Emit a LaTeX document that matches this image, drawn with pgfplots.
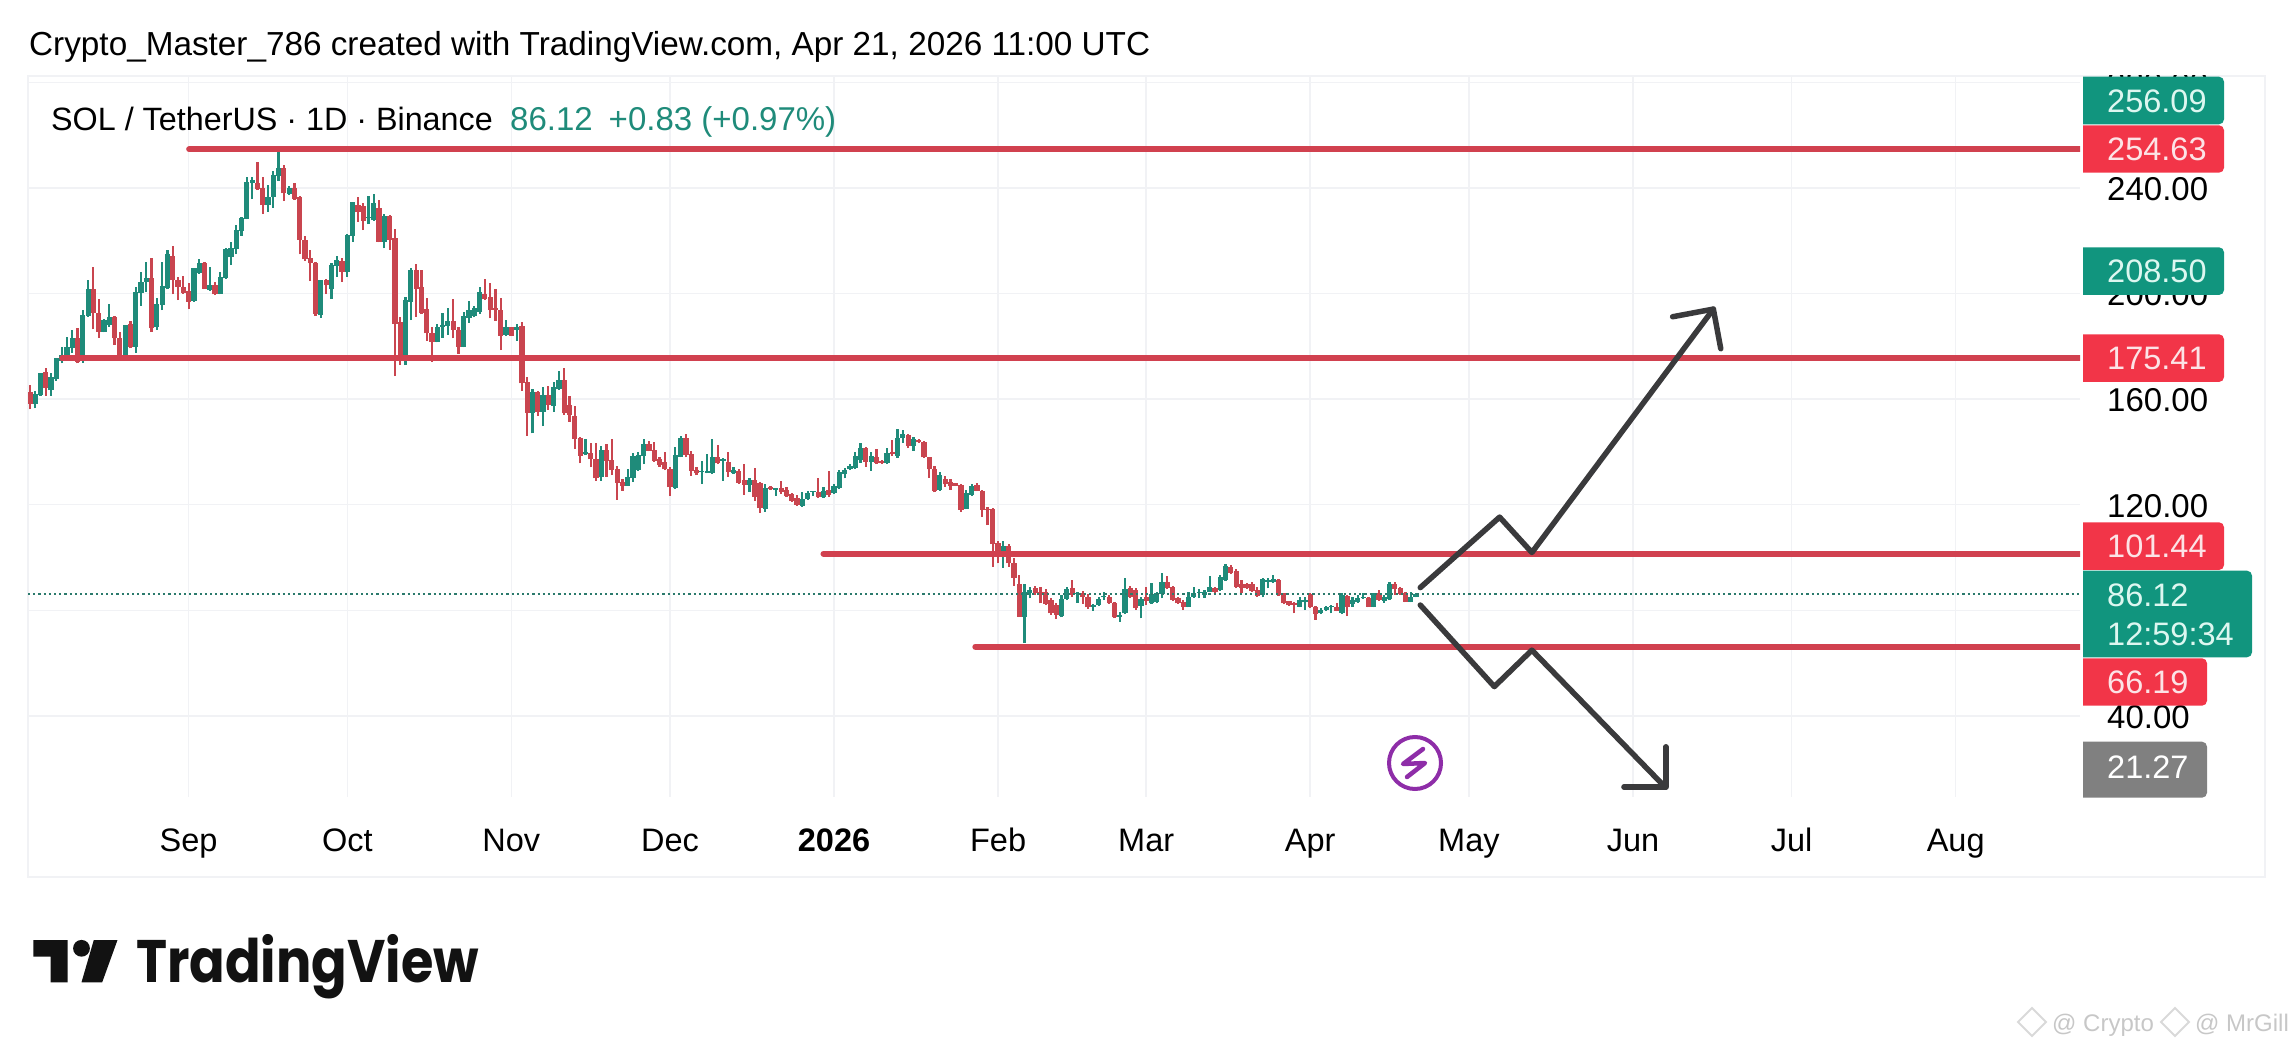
\documentclass[border=0pt]{standalone}
\usepackage{pgfplots}
\usepackage{pgfplotstable}
\usepackage{fontspec}
\pgfplotsset{compat=1.18}
\setmainfont{Liberation Sans}
\newfontfamily\pop{Poppins}
\definecolor{cg}{HTML}{1F8B7A}
\definecolor{cr}{HTML}{C9454F}
\definecolor{lr}{HTML}{D1414F}
\definecolor{tg}{HTML}{11957E}
\definecolor{tr}{HTML}{F23548}
\definecolor{gridc}{HTML}{F1F2F5}
\definecolor{ar}{HTML}{3A3A3C}
\definecolor{pu}{HTML}{8E2DA8}
\definecolor{dotc}{HTML}{2B7A6C}
\definecolor{tgt}{HTML}{DDF7F0}
\definecolor{trt}{HTML}{FCE3E6}
\pgfplotstableread{
d h t b l
-30 165.3 162.8 158.1 156.1
-27 171.6 170.4 164.1 161.2
-21 186.8 183 174.2 173.5
-18 210.2 201.7 192.5 186.4
-17 197.8 192.8 185.5 183.2
-14 191.4 191.2 183 180.5
-13 185.5 183 175.4 174.8
-11 189.7 188.4 179.8 179.2
-7 213.3 206 186.8 185.5
-3 218 214.3 205.1 199.7
-2 206.4 205.1 202.6 197.5
-1 206.6 202.6 200.3 200
0 204.1 201.1 196.9 194
3 211.8 211.4 201.9 201.6
5 204.5 203.2 199.7 199.4
13 249.7 242 239.5 239.2
14 244 240.1 233.5 230.1
18 248.7 247.4 237.9 235
20 241.7 239.8 235.8 235.5
21 236.9 236.4 220.3 214.8
22 221.8 220.3 212.9 212.4
23 216.5 213.3 211.4 204.7
24 212 211.7 192.2 191.4
26 205.5 205.1 203.2 199.8
29 213.3 212.4 208.3 204.5
32 236.7 233.5 230.7 227.2
33 234.1 233.1 227.5 224
36 235.4 232.3 219.6 219.4
38 229.7 229.3 220.3 216.5
39 224.3 220.9 188.4 168.7
40 191.2 189.3 174.8 172.9
43 211 208.9 201.9 191.2
44 208.9 202.3 192.8 192.2
45 198.2 194 184.9 182.1
46 187.4 184.9 181.7 174.2
50 197.9 189.6 186.2 183
51 187.4 186.2 179.8 177.1
56 205.5 200 197.9 197.5
57 204.1 198.5 193.7 190.6
58 201.6 194.7 193.7 189.7
59 198.2 193.7 184 178.6
61 187.4 187.2 184 183.9
63 189.3 187.7 166 163.2
64 168.3 166.6 154.9 146.2
66 163.2 162.8 155.2 153.6
68 165.1 161.6 157.8 155.9
71 171.7 167.2 154.6 154
72 161.2 157.8 154 151.5
73 157.4 153.6 144.8 141.1
74 145.5 145.3 138.6 135.7
76 143.5 139.5 137.2 134.2
77 143.2 137.2 130 129.1
79 143 140.7 136.7 130.6
80 144.8 136.9 133.1 131.2
81 134.7 133.4 128.3 121.8
82 129.6 128.7 127.2 125.3
87 144.3 143 140.5 140.2
88 143.6 140.7 136.7 136.3
89 138.2 137.2 135 134.4
90 140.1 136 133.4 133.1
91 134.2 133.5 126.6 123.4
94 146.8 145.1 138.8 137.9
95 140.5 139.2 132.9 131
96 134.2 133.1 131.9 131.2
100 142.6 137.9 135.7 135.4
102 139.8 136.3 132.5 130.6
104 133.4 132.9 128.3 127.8
105 135.3 129.4 127.5 123.7
107 133.8 129.4 123 121.5
108 128.7 128.1 118.6 117
110 127.2 126.8 126 125.7
112 129 126.2 124.9 124
113 126.6 125.6 123.3 123
114 124.6 124 121.4 121
115 123.7 122.4 119.9 119.6
119 130.2 124.9 122.8 122.5
121 132.8 125.6 123.7 123
128 141.7 141.4 136.3 134.4
130 141.1 138.2 135.9 135.4
131 136.9 136.6 135.7 135.4
133 144.5 140.1 139.1 138.6
136 146.6 146.4 142.2 141.4
138 144.9 144.5 143.6 143.4
139 144.1 143.9 137.9 137.7
140 138.2 137.9 133.4 130.2
141 134.7 133.4 125.3 124.7
143 130.9 129.7 127.7 126.8
144 129.7 128.5 127.2 125.6
145 128.3 128.1 127.2 127
146 127.7 127.3 118 117.2
149 128.1 127.5 125.3 125.1
150 125.6 125.3 118 115.5
151 119.2 118.4 118 112.3
152 118.6 118.4 105.1 96.5
153 106.4 105.4 100.9 97.8
155 105.1 104.5 97.8 96.5
156 99.7 97.8 92.4 89.3
157 93.3 90 77.6 77.4
160 89.2 88.3 86.4 85.8
161 88.7 87 85.8 82.6
162 87.9 87 82.4 82
163 84.5 83.9 78.8 78.4
164 82.6 82 78.4 76.7
167 91.5 88.3 85.8 85.2
169 87.4 86.4 85.2 82.4
170 86 85.2 81.1 80.5
174 85.8 84.9 82.6 82.4
175 83 82.6 77.3 77
178 89.2 88.5 85.2 84.8
179 88.5 87.7 80.7 80.3
181 88.9 85.2 83.5 82
185 93 90.8 88.3 87.9
186 89.2 88.7 83.9 83.5
187 85.2 84.5 82.6 82.4
188 83.9 83.3 81.4 80.1
194 88.9 88.5 87 86.7
197 97.2 96.5 94.2 93.7
198 95.5 95 88.9 88.3
199 91.5 89.9 88.3 86.7
200 90.2 89.8 88.3 88.1
201 90.8 89.9 87.4 87
202 88.9 87.7 85.4 85.2
206 91.8 91.6 85.8 85.5
207 86.7 86.4 82.6 82.2
208 83.6 83.4 82 81.7
209 83.3 82.6 82 78.8
212 86.4 86.2 81.1 80.7
213 81.6 81.4 78.6 76.5
217 82.6 81.4 79.8 79.6
219 85.8 85.4 81.4 77.8
223 84.9 84.5 81.4 81.1
225 87.7 86.7 83.9 83.6
228 90.8 89.8 87.9 85.8
229 88.9 88.5 86 85.8
230 87 86.7 83.3 83
}\downtable
\pgfplotstableread{
d h t b l
-29 163.2 162 158.1 156.5
-28 169.8 169.8 161.5 161.2
-26 170 168.5 163.4 161.2
-25 175.4 175.4 167.5 167
-24 179.6 176.7 174.5 173.5
-23 183.6 179.9 176.3 175.8
-22 186.2 183 179.2 177.6
-20 193.7 191.8 174.8 173.8
-19 205.1 201.7 191.5 191.2
-16 190.2 189.9 185.5 185.3
-15 195.9 191.2 188 187.4
-12 188 188 176 175.4
-10 202.3 200.7 179.8 177.6
-9 208.3 204.2 200.3 195.4
-8 211.8 205.7 204.2 200.7
-6 198.2 196 187.2 186.2
-5 211.8 202.8 195.6 193.7
-4 216.5 214.8 202.2 201.6
1 209.8 209.5 197.1 196.8
2 213 211.4 207.6 207.4
4 210.2 203.2 201.3 201.1
6 208 206.4 200 199.7
7 217.1 216.8 205.7 205.5
8 219.6 217.1 213.7 210.8
9 225.9 224 216.8 214.9
10 229.1 228.7 223.8 221.8
11 244 242.4 228.2 228.1
12 244 243 241.7 235.8
15 241.1 236.7 233.5 231
16 246.5 244.9 236.7 232.5
17 253.7 247.4 244.5 242.7
19 240.7 239.8 237.7 237.3
25 205.3 205.1 191.8 190.8
27 211.4 210.8 201.9 197.9
28 214.2 212.7 210.5 206.4
30 222.4 222.1 208.3 206.4
31 234.8 234.5 221.8 219.6
34 237 229.1 228.5 226.3
35 237.6 234.1 227.8 227.6
37 230 229.3 219.6 217.1
41 198.8 197.5 176.7 172.9
42 209.5 208.9 196.9 189.9
47 188.4 187.4 181.7 181.5
48 192.5 188 187.4 183.2
49 194.4 189.7 187.7 184.3
52 193.1 191.5 179.8 179.6
53 197.1 193.7 190.6 188.9
54 195.2 194.4 191.5 191
55 202.3 200.7 193.1 192.2
60 190 187.2 184.3 184
62 188.4 187.4 186.2 182.1
65 163.8 162.8 154.9 147
67 164.7 161.6 155.2 149.8
69 166.6 164.7 157.5 155.2
70 170.8 167.2 163.7 163.5
75 144.9 140.1 139.2 138.8
78 142.2 140.7 130.4 129.1
83 133.4 130.4 127.2 127.1
84 139.7 138.4 130 128.7
85 140.1 138.8 133.1 132.9
86 144.8 143 138.4 135.4
92 141.7 138.8 126.2 125.9
93 146.2 145.4 138.2 137.9
97 136.6 132.8 132.3 127.8
98 139.1 132.9 132.1 131.9
99 144.9 138.2 132.1 131.6
101 137.8 137.2 136.7 129
103 134.4 133.1 131.9 131.6
106 130 129.4 127.5 125
109 127.7 126.4 118.4 117.4
111 126.4 126.2 125.6 123.3
116 124.9 122 119.6 119.3
117 125.2 124.6 122 121.8
118 125.3 125.2 124.8 123.3
120 126.8 125.2 122.8 122.5
122 127.7 127 124.3 124
123 133.1 132.5 126.2 125.9
124 133.8 133.1 131.6 130
125 135.3 134.7 133.5 133.1
126 140.1 138.4 133.8 133.5
127 143.5 141.4 136.9 135.9
129 140.1 138.4 136 132.9
132 141.4 139.7 135.7 135.4
134 148.7 145.4 138.6 137.8
135 148.3 146.6 145.1 143.5
137 145.8 144.8 142.2 140.5
142 132.3 131.2 125.6 125.2
147 125.6 124.6 118.5 118.2
148 127.7 127.2 123.7 123.4
154 106.2 104.3 100.9 96.1
158 89.8 87 77.6 67.7
159 88.9 87.7 86.4 84.5
165 85.8 84.1 77.8 77.3
166 88.9 88.2 84.1 83.9
168 87 86.7 86.2 82.9
171 82.4 82 81.4 79.8
172 85.2 84.3 82 81.6
173 86.8 85.5 84.9 83.9
176 79.5 78.2 77.6 75.7
177 92.3 87.9 78.8 78.6
180 85.2 84.1 81.6 76.9
182 90.2 86.2 82.6 82.4
183 87 86.7 83.3 82.6
184 94 90.6 86 84.5
189 87 84.9 81.4 81.1
190 88.7 86.4 85.2 84.8
191 88 87 86.7 84.5
192 87.7 87 85.8 84.8
193 93 88.9 87 86.8
195 93.4 92.7 87.7 87.4
196 97.5 96.8 91.5 91.1
203 92.3 91.8 85.8 84.9
204 92.1 91.5 90.8 88.3
205 93.4 91.8 90.6 90.3
210 85.2 83.9 81.4 81.1
211 85.2 83.9 83.3 80.1
214 80.7 80.1 78.8 78.6
215 81.6 81.1 80.1 79.7
216 82 81.7 81.1 78.8
218 86.7 85.8 79.1 78.6
220 85.2 83.9 82.4 81.4
221 85.8 84.5 83.3 82.9
222 86.7 85.2 84.5 84.3
224 86.7 86.4 81.4 81.1
226 85.8 85.2 83.6 82.9
227 90.8 89.9 84.1 83.9
231 87 85.2 83.3 83
232 86.7 86.2 85.2 84.9
}\uptable
\newcommand\pricetag[4]{%
  \fill[#1] (2083,#2) [rounded corners=5pt] -- (#4,#2) -- (#4,#3) [sharp corners] -- (2083,#3) -- cycle;}
\newcommand\tagtext[3]{\node[anchor=base west,inner sep=0pt,text=#1,font=\fontsize{32.5}{36}\selectfont] at (2107,#2) {#3};}
\begin{document}
\begin{tikzpicture}[x=1pt,y=1pt]
\path[use as bounding box] (0,0) rectangle (2294,1047);
\begin{scope}[yshift=1047pt,y=-1pt]
\draw[gridc,line width=1.5pt] (28,76) rectangle (2265,877);
\end{scope}
\begin{axis}[
  at={(28pt,250pt)},anchor=south west,
  width=2052pt,height=721pt,scale only axis,
  xmin=-30.36,xmax=357.5,ymin=9.28,ymax=282.4,
  axis line style={draw=none},
  tick style={draw=none},
  grid=major,grid style={gridc,line width=1.5pt},
  xtick={0,30,61,91,122,153,181,212,242,273,303,334},
  xticklabels={Sep,Oct,Nov,Dec,\textbf{2026},Feb,Mar,Apr,May,Jun,Jul,Aug},
  xticklabel style={font=\fontsize{32.5}{36}\selectfont,anchor=base,yshift=-54.5pt},
  ytick={40,80,120,160,200,240,280},
  yticklabel pos=right,
  yticklabel style={font=\fontsize{33}{36}\selectfont,anchor=west,xshift=27pt,yshift=-1pt,inner sep=0pt,
    /pgf/number format/.cd,fixed,fixed zerofill,precision=2,assume math mode=true},
]
\addplot[forget plot,draw=none,no marks,error bars/.cd,y dir=plus,y explicit,error mark=none,error bar style={draw=cg,line width=2.2pt}] table[x=d,y=l,y error expr=\thisrow{h}-\thisrow{l}]{\uptable};
\addplot[forget plot,draw=none,no marks,error bars/.cd,y dir=plus,y explicit,error mark=none,error bar style={draw=cg,line width=5.2pt}] table[x=d,y=b,y error expr=\thisrow{t}-\thisrow{b}]{\uptable};
\addplot[forget plot,draw=none,no marks,error bars/.cd,y dir=plus,y explicit,error mark=none,error bar style={draw=cr,line width=2.2pt}] table[x=d,y=l,y error expr=\thisrow{h}-\thisrow{l}]{\downtable};
\addplot[forget plot,draw=none,no marks,error bars/.cd,y dir=plus,y explicit,error mark=none,error bar style={draw=cr,line width=5.2pt}] table[x=d,y=b,y error expr=\thisrow{t}-\thisrow{b}]{\downtable};
% last price
\addplot[dotc,line width=2pt,dash pattern=on 2.2pt off 3pt] coordinates {(-30.36,86.12)(357.5,86.12)};
% levels
\addplot[lr,line width=6pt,line cap=round] coordinates {(0.1,254.63)(358.5,254.63)};
\addplot[lr,line width=6pt,line cap=round] coordinates {(-23.9,175.41)(358.5,175.41)};
\addplot[lr,line width=6pt,line cap=round] coordinates {(120,101.44)(358.5,101.44)};
\addplot[lr,line width=6pt,line cap=round] coordinates {(148.7,66.19)(358.5,66.19)};
% arrows
\addplot[ar,line width=5.5pt,line cap=round,line join=round] coordinates {(232.8,88.6)(247.8,115.3)(253.9,101.9)(288.2,194.1)};
\addplot[ar,line width=5.5pt,line cap=round,line join=round] coordinates {(280.5,191.2)(288.2,194.1)(289.6,179.1)};
\addplot[ar,line width=5.5pt,line cap=round,line join=round] coordinates {(232.8,82.0)(246.8,51.1)(253.9,64.9)(279.1,13.0)};
\addplot[ar,line width=5.5pt,line cap=round,line join=round] coordinates {(279.2,28.3)(279.2,13.0)(271.3,13.0)};
\end{axis}
\begin{scope}[yshift=1047pt,y=-1pt]
% the pane cuts off the topmost scale number
\fill[white] (2090,58) rectangle (2230,74.7);
% header
\node[anchor=base west,inner sep=0pt,font=\fontsize{33.3}{36}\selectfont] at (29,55.5) {Crypto\_Master\_786 created with TradingView.com, Apr 21, 2026 11:00 UTC};
\node[anchor=base west,inner sep=0pt,font=\fontsize{32.3}{36}\selectfont] at (51,131) {SOL / TetherUS · 1D · Binance};
\node[anchor=base west,inner sep=0pt,text=cg,font=\fontsize{33}{36}\selectfont] at (510,131) {86.12\hspace{16pt}+0.83 (+0.97\%)};
% tags
\pricetag{tg}{76.7}{124.3}{2224}
\tagtext{tgt}{113}{256.09}
\pricetag{tr}{125.3}{172.7}{2224}
\tagtext{trt}{161}{254.63}
\pricetag{tg}{247.3}{295}{2224}
\tagtext{tgt}{283}{208.50}
\pricetag{tr}{334.3}{382}{2224}
\tagtext{trt}{370}{175.41}
\pricetag{tr}{522.3}{570}{2224}
\tagtext{trt}{558}{101.44}
\pricetag{tg}{570.7}{657.3}{2252}
\tagtext{tgt}{607}{86.12}
\tagtext{tgt}{646}{12:59:34}
\pricetag{tr}{658.3}{705.7}{2207}
\tagtext{trt}{694}{66.19}
\pricetag{gray}{741.7}{797.7}{2207}
\tagtext{white}{779}{21.27}
% icon
\draw[pu,line width=4pt] (1415,763) circle (26);
\draw[pu,line width=4.5pt,line cap=round,line join=round] (1423,749) -- (1403,764) -- (1425,763) -- (1407,777);
% logo
\fill[black!93] (33.3,940) -- (67.7,940) -- (67.7,982.3) -- (50.5,982.3) -- (50.5,956.7) -- (33.3,956.7) -- cycle;
\fill[black!93] (81.5,948.3) circle (8.4);
\fill[black!93] (93.8,940) -- (117.5,940) -- (102.2,982.3) -- (81.5,982.3) -- cycle;
\node[anchor=base west,inner sep=0pt,text=black!93,xscale=0.875,transform shape,font=\pop\bfseries\fontsize{60}{66}\selectfont] at (136,982) {TradingView};
% watermark
\node[anchor=base west,inner sep=0pt,text=black!22,font=\fontsize{24}{26}\selectfont] at (2052,1031) {@ Crypto};
\node[anchor=base west,inner sep=0pt,text=black!22,font=\fontsize{24}{26}\selectfont] at (2195,1031) {@ MrGill};
\draw[black!15,line width=2pt] (2032,1008) -- (2046,1022) -- (2032,1036) -- (2018,1022) -- cycle;
\draw[black!15,line width=2pt] (2175,1008) -- (2189,1022) -- (2175,1036) -- (2161,1022) -- cycle;
\end{scope}
\end{tikzpicture}
\end{document}
